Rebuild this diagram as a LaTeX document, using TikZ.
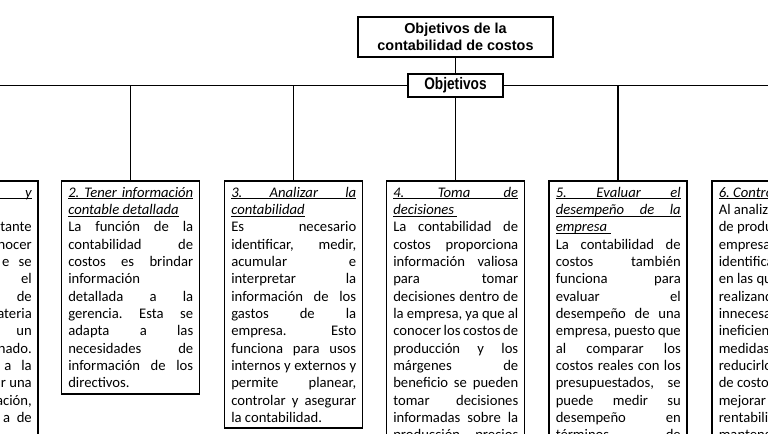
\documentclass[tikz,border=0pt]{standalone}
\usepackage{fontspec}
\setmainfont{Carlito}
\newfontfamily\titlefont{Liberation Sans}
\newfontfamily\narrowfont[FakeStretch=0.82]{Liberation Sans}
\newsavebox\ulbox
\newcommand\rs{\spaceskip=0pt\xspaceskip=0pt\relax}
\newcommand\J[1]{\leavevmode{\rs\makebox[\linewidth][s]{#1}}}
\newcommand\R[1]{\leavevmode{\rs\makebox[\linewidth][r]{#1}}}
\newcommand\UJ[1]{\leavevmode\rlap{\rule[-1.6pt]{\linewidth}{0.6pt}}\J{\itshape #1}}
\newcommand\UL[1]{\leavevmode\sbox\ulbox{\rs\itshape #1}\rlap{\rule[-1.6pt]{\wd\ulbox}{0.6pt}}\usebox\ulbox}
\tikzset{
  obox/.style={draw, line width=1.3pt, rectangle, inner sep=0pt, minimum width=103.5pt, anchor=north},
  txt/.style={inner sep=0pt, text width=93.75pt, align=left, anchor=base west,
    font=\fontsize{11pt}{13pt}\selectfont\frenchspacing},
  tbox/.style={draw, line width=1.1pt, rectangle, inner sep=0pt, minimum width=146.25pt, minimum height=30pt,
    align=center, font=\titlefont\bfseries\fontsize{10.8pt}{12.75pt}\selectfont},
  objbox/.style={draw, line width=1.1pt, rectangle, inner sep=0pt, minimum width=71.25pt, minimum height=17.25pt,
    font=\narrowfont\bfseries\fontsize{12.5pt}{14pt}\selectfont},
  conn/.style={line width=1.4pt},
  thinconn/.style={line width=0.8pt}
}
\begin{document}
\begin{tikzpicture}[x=0.75pt, y=-0.75pt]
\fill[white] (0,0) rectangle (768,433);
\useasboundingbox (0,0) rectangle (768,433);
\clip (0,0) rectangle (768,433);

% header nodes
\node[tbox] (title) at (455.5,37) {Objetivos de la\\contabilidad de costos};
\node[objbox] (obj) at (455.5,85.5) {Objetivos};

% boxes
\node[obox, minimum height=225pt] (b1) at (-31,180) {};
\node[obox, minimum height=159.75pt] (b2) at (130.5,180) {};
\node[obox, minimum height=185.25pt] (b3) at (293.5,180) {};
\node[obox, minimum height=225pt] (b4) at (455.5,180) {};
\node[obox, minimum height=225pt] (b5) at (618,180) {};
\node[obox, minimum height=225pt] (b6) at (781,180) {};

% connectors
\draw[conn] (title.south) -- (obj.north);
\draw[conn] (obj.west) -| (b1.north);
\draw[conn] (obj.east) -| (b6.north);
\draw[conn] (obj.south) -- (b4.north);
\draw[conn] (b2.north |- obj.west) -- (b2.north);
\draw[thinconn] (b3.north |- obj.west) -- (b3.north);
\draw[thinconn] (b5.north |- obj.west) -- (b5.north);

% box 1 (partly outside)
\node[txt] (t1) at (-93.5,197) {\rs
\leavevmode\rlap{\rule[-1.6pt]{\linewidth}{0.6pt}}\R{\itshape y}\\
\mbox{}\\
\R{rtante}\\
\R{nocer}\\
\R{e\hspace{7pt}se}\\
\R{el}\\
\R{de}\\
\R{ateria}\\
\R{un}\\
\R{nado.}\\
\R{a\hspace{7.5pt}la}\\
\R{r una}\\
\R{ación,}\\
\R{a\hspace{5pt}de}};

% box 2
\node[txt] (t2) at (68,197) {\rs
\UJ{2. Tener información}\\
\UL{contable detallada}\\
\J{La función de la}\\
\J{contabilidad de}\\
\J{costos es brindar}\\
información\\
\J{detallada a la}\\
\J{gerencia. Esta se}\\
\J{adapta a las}\\
\J{necesidades de}\\
\J{información de los}\\
directivos.};

% box 3
\node[txt] (t3) at (231,197) {\rs
\UJ{3. Analizar la}\\
\UL{contabilidad}\\
\J{Es necesario}\\
\J{identificar, medir,}\\
\J{acumular e}\\
\J{interpretar la}\\
\J{información de los}\\
\J{gastos de la}\\
\J{empresa. Esto}\\
\J{funciona para usos}\\
\J{internos y externos y}\\
\J{permite planear,}\\
\J{controlar y asegurar}\\
la contabilidad.};

% box 4
\node[txt] (t4) at (393,197) {\rs
\UJ{4. Toma de}\\
\UL{decisiones\ }\\
\J{La contabilidad de}\\
\J{costos proporciona}\\
\J{información valiosa}\\
\J{para tomar}\\
\J{decisiones dentro de}\\
\J{la empresa, ya que al}\\
\J{conocer los costos de}\\
\J{producción y los}\\
\J{márgenes de}\\
\J{beneficio se pueden}\\
\J{tomar decisiones}\\
\J{informadas sobre la}\\
\J{producción precios}};

% box 5
\node[txt] (t5) at (555.5,197) {\rs
\UJ{5. Evaluar el}\\
\UJ{desempeño de la}\\
\UL{empresa\ }\\
\J{La contabilidad de}\\
\J{costos también}\\
\J{funciona para}\\
\J{evaluar el}\\
\J{desempeño de una}\\
\J{empresa, puesto que}\\
\J{al comparar los}\\
\J{costos reales con los}\\
\J{presupuestados, se}\\
\J{puede medir su}\\
\J{desempeño en}\\
\J{términos de}};

% box 6 (partly outside)
\node[txt] (t6) at (718.5,197) {\rs
\leavevmode\rlap{\rule[-1.6pt]{\linewidth}{0.6pt}}{\itshape 6. Control}\\
Al analiza\\
de produ\\
empresa\\
identifica\\
en las qu\\
realizand\\
innecesa\\
ineficient\\
medidas\\
reducirlo\\
de costos\\
mejorar l\\
rentabilid\\
manteng};
\end{tikzpicture}
\end{document}
